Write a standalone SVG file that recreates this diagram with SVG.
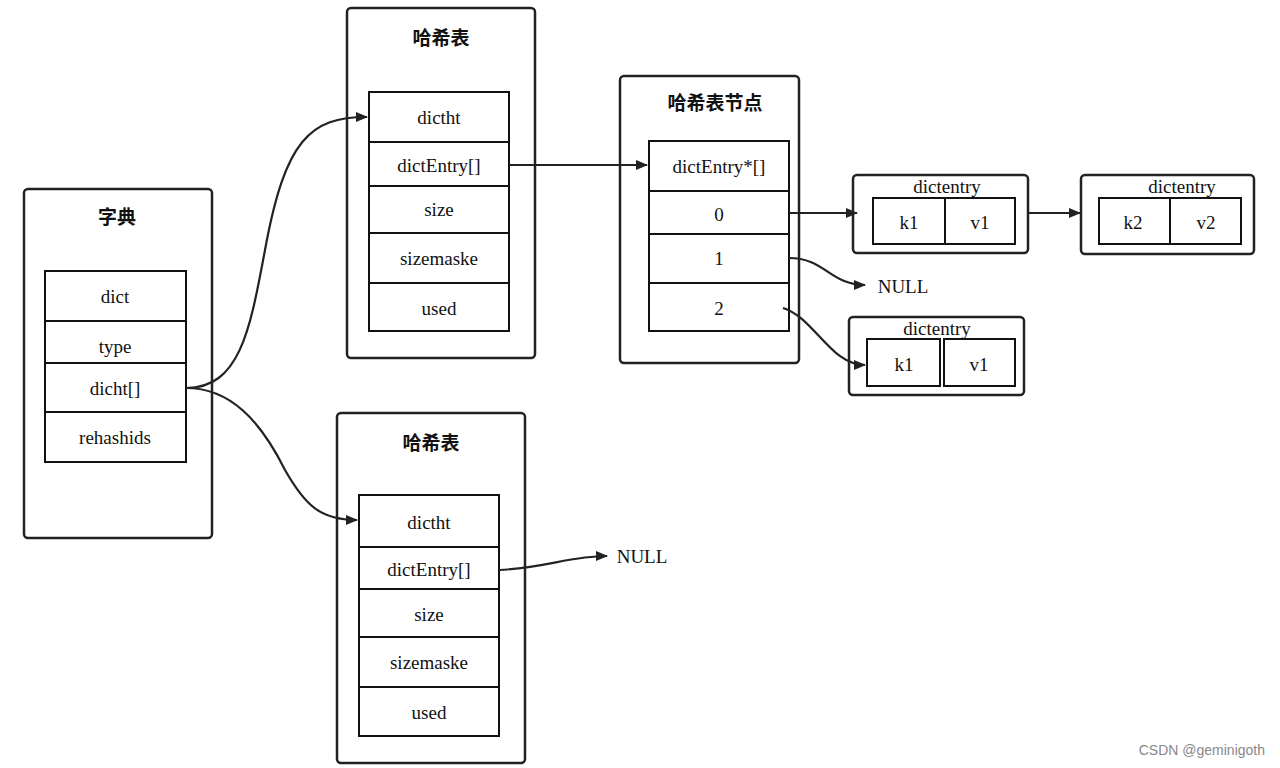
<svg xmlns="http://www.w3.org/2000/svg" width="1280" height="768" viewBox="0 0 1280 768">
<style>
.o{fill:#fff;stroke:#222;stroke-width:2.5}
.c{fill:#fff;stroke:#111;stroke-width:2}
.t{font-family:"Liberation Serif","Noto Sans CJK SC",serif;font-size:19px;fill:#111;text-anchor:middle;dominant-baseline:central}
.h{font-family:"Noto Sans CJK SC",sans-serif;font-size:19px;font-weight:bold;fill:#111;text-anchor:middle;dominant-baseline:central}
.l{fill:none;stroke:#222;stroke-width:2.2;marker-end:url(#a)}
</style>
<defs><marker id="a" markerWidth="12" markerHeight="10" refX="11" refY="5" orient="auto" markerUnits="userSpaceOnUse"><path d="M0,0L12,5L0,10z" fill="#222"/></marker></defs>
<rect width="1280" height="768" fill="#fff"/>
<g id="dict">
<rect class="o" x="24" y="189" width="188" height="349" rx="4"/>
<text class="h" x="117" y="215">字典</text>
<rect class="c" x="45" y="271" width="141" height="50"/><text class="t" x="115" y="296">dict</text>
<rect class="c" x="45" y="321" width="141" height="42"/><text class="t" x="115" y="346">type</text>
<rect class="c" x="45" y="363" width="141" height="49"/><text class="t" x="115" y="388">dicht[]</text>
<rect class="c" x="45" y="412" width="141" height="50"/><text class="t" x="115" y="437">rehashids</text>
</g>
<g id="ht0">
<rect class="o" x="347" y="8" width="188" height="350" rx="4"/>
<text class="h" x="441" y="36">哈希表</text>
<rect class="c" x="369" y="92" width="140" height="50"/><text class="t" x="439" y="117">dictht</text>
<rect class="c" x="369" y="142" width="140" height="44"/><text class="t" x="439" y="165">dictEntry[]</text>
<rect class="c" x="369" y="186" width="140" height="47"/><text class="t" x="439" y="209">size</text>
<rect class="c" x="369" y="233" width="140" height="50"/><text class="t" x="439" y="258">sizemaske</text>
<rect class="c" x="369" y="283" width="140" height="48"/><text class="t" x="439" y="308">used</text>
</g>
<g id="ht1">
<rect class="o" x="337" y="413" width="188" height="350" rx="4"/>
<text class="h" x="431" y="441">哈希表</text>
<rect class="c" x="359" y="495" width="140" height="52"/><text class="t" x="429" y="522">dictht</text>
<rect class="c" x="359" y="547" width="140" height="42"/><text class="t" x="429" y="569">dictEntry[]</text>
<rect class="c" x="359" y="589" width="140" height="48"/><text class="t" x="429" y="614">size</text>
<rect class="c" x="359" y="637" width="140" height="50"/><text class="t" x="429" y="662">sizemaske</text>
<rect class="c" x="359" y="687" width="140" height="49"/><text class="t" x="429" y="712">used</text>
</g>
<g id="nodes">
<rect class="o" x="620" y="76" width="179" height="287" rx="4"/>
<text class="h" x="715" y="101">哈希表节点</text>
<rect class="c" x="649" y="141" width="140" height="50"/><text class="t" x="719" y="166">dictEntry*[]</text>
<rect class="c" x="649" y="191" width="140" height="43"/><text class="t" x="719" y="214">0</text>
<rect class="c" x="649" y="234" width="140" height="49"/><text class="t" x="719" y="258">1</text>
<rect class="c" x="649" y="283" width="140" height="48"/><text class="t" x="719" y="308">2</text>
</g>
<g id="e1">
<rect class="o" x="853" y="175" width="175" height="78" rx="4"/>
<text class="t" x="947" y="186">dictentry</text>
<rect class="c" x="873" y="198" width="72" height="46"/><text class="t" x="909" y="222">k1</text>
<rect class="c" x="945" y="198" width="70" height="46"/><text class="t" x="980" y="222">v1</text>
</g>
<g id="e2">
<rect class="o" x="1081" y="175" width="173" height="79" rx="4"/>
<text class="t" x="1182" y="186">dictentry</text>
<rect class="c" x="1099" y="198" width="71" height="46"/><text class="t" x="1133" y="222">k2</text>
<rect class="c" x="1170" y="198" width="71" height="46"/><text class="t" x="1206" y="222">v2</text>
</g>
<g id="e3">
<rect class="o" x="849" y="317" width="175" height="78" rx="4"/>
<text class="t" x="937" y="328">dictentry</text>
<rect class="c" x="867" y="339" width="73" height="47"/><text class="t" x="904" y="364">k1</text>
<rect class="c" x="944" y="339" width="71" height="47"/><text class="t" x="979" y="364">v1</text>
</g>
<g id="labels">
<text class="t" x="903" y="286">NULL</text>
<text class="t" x="642" y="556">NULL</text>
<text x="1265" y="755" font-family="Liberation Sans,sans-serif" font-size="14" fill="#888" text-anchor="end">CSDN @geminigoth</text>
</g>
<g id="connectors">
<path class="l" d="M186,388C240,388 250,330 265,250C285,140 310,117 367,117"/>
<path class="l" d="M186,388C230,388 260,420 285,470C305,505 320,520 357,520"/>
<path class="l" d="M509,165L647,165"/>
<path class="l" d="M789,213L857,213"/>
<path class="l" d="M1028,213L1080,213"/>
<path class="l" d="M789,258C825,258 830,285 865,285"/>
<path class="l" d="M783,308C815,318 830,365 865,365"/>
<path class="l" d="M499,570C545,568 570,556 607,556"/>
</g>
</svg>
